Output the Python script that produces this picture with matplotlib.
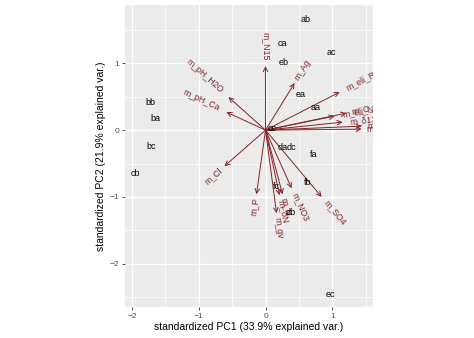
import numpy as np
import matplotlib
matplotlib.use('Agg')
import matplotlib.pyplot as plt

plt.rcParams['font.family'] = ['Liberation Sans', 'DejaVu Sans']

# sample scores (standardized PC1, PC2)
sample_names = ['ab', 'ca', 'ac', 'eb', 'ea', 'aa', 'bb', 'ba', 'bc', 'cb',
                'cc', 'da', 'dc', 'fa', 'fb', 'fc', 'db', 'ec']
pc1 = [0.60, 0.255, 0.99, 0.27, 0.52, 0.75, -1.72, -1.65, -1.72, -1.95,
       0.105, 0.255, 0.39, 0.72, 0.63, 0.165, 0.375, 0.975]
pc2 = [1.66, 1.30, 1.17, 1.02, 0.54, 0.345, 0.42, 0.18, -0.24, -0.645,
       0.03, -0.255, -0.255, -0.36, -0.78, -0.84, -1.23, -2.46]

# variable loadings (arrows)
var_names = ['m_N15', 'm_Ag', 'm_eli_R', 'm_pH_H2O', 'm_pH_Ca', 'm_eli_N',
             'm_C_N', 'm_δ13C', 'm_TOC', 'm_TN', 'm_Cl', 'm_P', 'm_gv',
             'm_δN', 'm_N', 'm_NO3', 'm_SO4']
var_x = [-0.001, 0.435, 1.11, -0.555, -0.585, 1.035, 1.21, 1.155, 1.44, 1.44,
         -0.615, -0.135, 0.165, 0.21, 0.255, 0.39, 0.84]
var_y = [0.96, 0.705, 0.57, 0.495, 0.27, 0.21, 0.255, 0.12, 0.06, 0.015,
         -0.54, -0.96, -1.245, -0.975, -0.96, -0.87, -1.0]

xlabel = 'standardized PC1 (33.9% explained var.)'
ylabel = 'standardized PC2 (21.9% explained var.)'

arrow_col = '#832424'

fig = plt.figure(figsize=(4.74, 3.38), dpi=100)
ax = fig.add_axes([125/474, 1-307/338, 248/474, 302/338])
ax.set_facecolor('#EBEBEB')
ax.set_xlim(-2.105, 1.61)
ax.set_ylim(-2.65, 1.875)

ax.set_xticks([-2, -1, 0, 1])
ax.set_yticks([-2, -1, 0, 1])
ax.set_xticks([-1.5, -0.5, 0.5, 1.5], minor=True)
ax.set_yticks([-2.5, -1.5, -0.5, 0.5, 1.5], minor=True)
ax.grid(which='major', color='white', lw=1.0)
ax.grid(which='minor', color='white', lw=0.5)
ax.set_axisbelow(True)
for s in ax.spines.values():
    s.set_visible(False)
ax.tick_params(which='major', length=2.5, width=0.6, color='#333333',
               labelsize=6, labelcolor='#4D4D4D', pad=1.5)
ax.tick_params(which='minor', length=0)
ax.set_xlabel(xlabel, fontsize=7.5, labelpad=2)
ax.set_ylabel(ylabel, fontsize=7.5, labelpad=3)

# arrows
for name, vx, vy in zip(var_names, var_x, var_y):
    ax.annotate('', xy=(vx, vy), xytext=(0, 0),
                arrowprops=dict(arrowstyle='->', color=arrow_col, lw=0.7,
                                mutation_scale=8, shrinkA=0, shrinkB=0))

# arrow labels, ggbiplot style
for name, vx, vy in zip(var_names, var_x, var_y):
    ang = np.degrees(np.arctan(vy / vx))
    off = 0.25 * len(name) * 3.3
    d = np.array([np.cos(np.radians(ang)), np.sin(np.radians(ang))])
    if vx > 0:
        ha = 'left'
    else:
        ha = 'right'
        d = -d
    ax.annotate(name, xy=(vx, vy), xytext=(off*d[0], off*d[1]),
                textcoords='offset points', rotation=ang,
                rotation_mode='anchor', ha=ha, va='center',
                fontsize=6.3, color=arrow_col, annotation_clip=False,
                clip_on=True)

# sample labels
for name, x, y in zip(sample_names, pc1, pc2):
    ax.text(x, y, name, fontsize=6.5, ha='center', va='center', color='black')

fig.savefig('out.png', dpi=100)
